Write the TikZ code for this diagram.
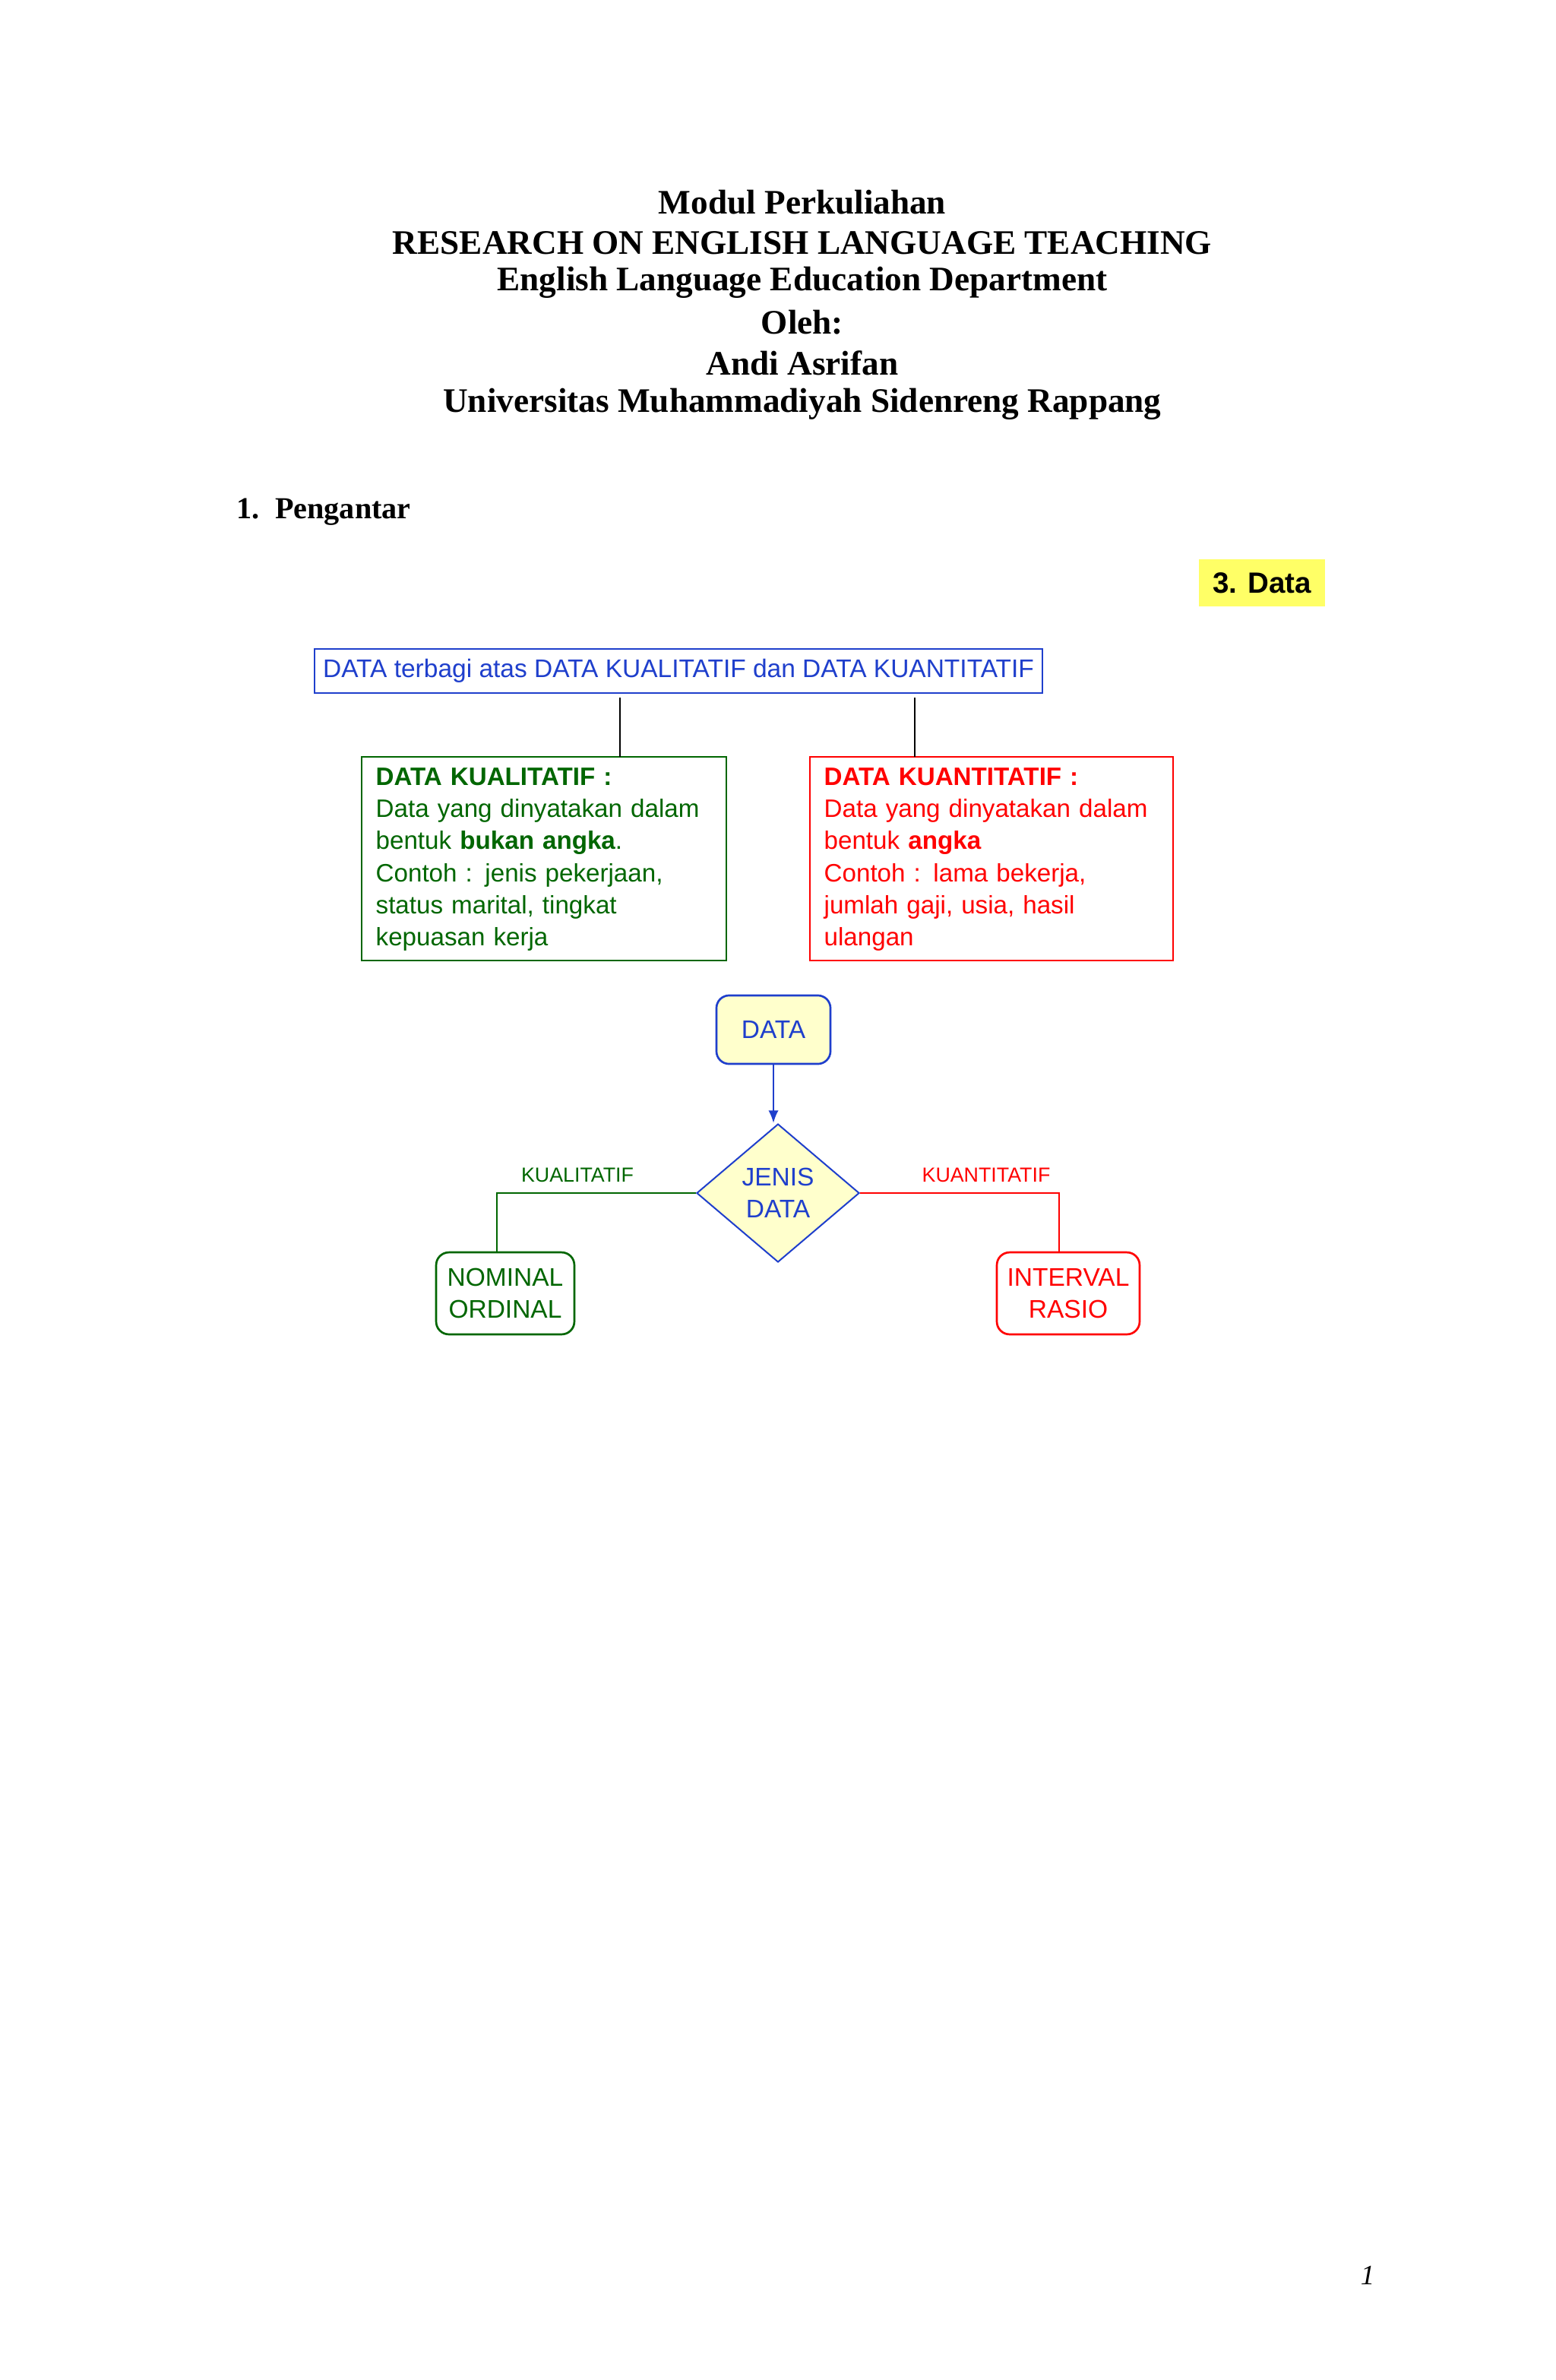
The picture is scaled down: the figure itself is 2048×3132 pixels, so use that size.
\documentclass[tikz,border=0pt]{standalone}
\usepackage{fontspec}
\setmainfont{Liberation Serif}
\setsansfont{Liberation Sans}
\usetikzlibrary{shapes.geometric,arrows.meta}
\definecolor{dblue}{HTML}{1F3FCC}
\definecolor{dgreen}{HTML}{006600}
\definecolor{dred}{HTML}{FF0000}
\definecolor{lyellow}{HTML}{FFFFCC}
\definecolor{hyellow}{HTML}{FFFF66}
\begin{document}
\begin{tikzpicture}[x=0.2985pt,y=-0.2985pt,
  title/.style={font=\fontsize{13.5}{16}\selectfont\bfseries, anchor=center},
  infobox/.style={inner sep=0pt, text width=134pt, align=left, anchor=north west, font=\sffamily\fontsize{9.9}{12.6}\selectfont},
  rbox/.style={draw, rounded corners=5pt, line width=0.8pt, align=center, inner sep=0pt, font=\sffamily\fontsize{10}{12.6}\selectfont},
  lab/.style={font=\sffamily\fontsize{8}{10}\selectfont}]
\useasboundingbox (0,0) rectangle (2048,3132);
\fill[white] (0,0) rectangle (2048,3132);
\node[title] (t1) at (1056,266) {Modul Perkuliahan};
\node[title] (t2) at (1056,320) {RESEARCH ON ENGLISH LANGUAGE TEACHING};
\node[title] (t3) at (1056,372) {English Language Education Department};
\node[title] (t4) at (1056,424) {Oleh:};
\node[title] (t5) at (1056,478) {Andi Asrifan};
\node[title] (t6) at (1056,532) {Universitas Muhammadiyah Sidenreng Rappang};
\node[font=\fontsize{12}{14}\selectfont\bfseries, anchor=west] (h1) at (300,674) {1.\hspace{6pt}Pengantar};
\node[fill=hyellow, minimum width=49.6pt, minimum height=18.5pt, inner sep=0pt, font=\sffamily\bfseries\fontsize{11.5}{14}\selectfont] (sec) at (1661,767) {3. Data};
\node[draw=dblue, line width=0.8pt, minimum width=286pt, minimum height=17.3pt, inner sep=0pt, text=dblue, font=\sffamily\fontsize{10}{12}\selectfont] (top) at (893,883) {DATA terbagi atas DATA KUALITATIF dan DATA KUANTITATIF};
\draw[draw=dgreen, line width=0.8pt] (476,996) rectangle (956,1264);
\node[infobox, text=dgreen] (kual) at (494,1010) {\textbf{DATA KUALITATIF :}\\Data yang dinyatakan dalam\\bentuk \textbf{bukan angka}.\\Contoh : jenis pekerjaan,\\status marital, tingkat\\kepuasan kerja};
\draw[draw=dred, line width=0.8pt] (1066,996) rectangle (1544,1264);
\node[infobox, text=dred] (kuan) at (1084,1010) {\textbf{DATA KUANTITATIF :}\\Data yang dinyatakan dalam\\bentuk \textbf{angka}\\Contoh : lama bekerja,\\jumlah gaji, usia, hasil\\ulangan};
\coordinate (a1) at (816,918); \coordinate (a2) at (816,996);
\coordinate (b1) at (1204,918); \coordinate (b2) at (1204,996);
\draw[line width=0.6pt] (a1) -- (a2);
\draw[line width=0.6pt] (b1) -- (b2);
\node[rbox, draw=dblue, fill=lyellow, text=dblue, minimum width=44.8pt, minimum height=26.9pt] (data) at (1018,1355) {\raisebox{-6pt}{DATA}};
\node[diamond, draw=dblue, line width=0.6pt, fill=lyellow, minimum width=63.9pt, minimum height=54.3pt, inner sep=0pt] (jd) at (1024,1570) {};
\node[text=dblue, align=center, inner sep=0pt, font=\sffamily\fontsize{10}{12.6}\selectfont] (jdt) at (1024,1570) {JENIS\\DATA};
\draw[dblue, line width=0.8pt, -{Latex[length=5pt,width=4pt]}] (data.south) -- (data.south |- jd.north);
\node[rbox, draw=dgreen, text=dgreen, minimum width=54.3pt, minimum height=32.2pt] (nom) at (665,1702) {NOMINAL\\ORDINAL};
\node[rbox, draw=dred, text=dred, minimum width=56.1pt, minimum height=32.2pt] (int) at (1406,1702) {INTERVAL\\RASIO};
\coordinate (gn) at (654,1648);
\coordinate (rn) at (1394,1648);
\draw[dgreen, line width=0.8pt] (jd.west) -| (gn);
\draw[dred, line width=0.8pt] (jd.east) -| (rn);
\node[lab, text=dgreen] (lk) at (760,1546) {KUALITATIF};
\node[lab, text=dred] (lq) at (1298,1546) {KUANTITATIF};
\node[font=\itshape\fontsize{11}{13}\selectfont] (pg) at (1800,2994) {1};
\end{tikzpicture}
\end{document}
